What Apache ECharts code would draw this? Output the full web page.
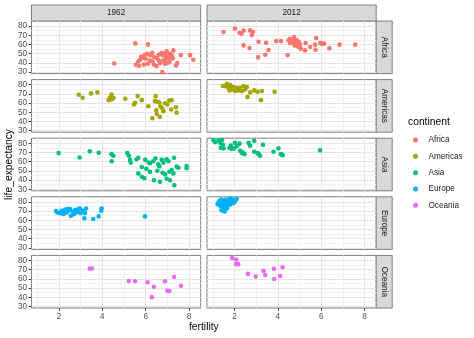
<!DOCTYPE html>
<html><head><meta charset="utf-8">
<script src="https://cdn.jsdelivr.net/npm/echarts@6/dist/echarts.min.js"></script>
<style>html,body{margin:0;padding:0;background:#fff}#c{width:474px;height:338px}</style>
</head><body><div id="c"></div>
<script>
const continents = ['Africa','Americas','Asia','Europe','Oceania'];
const years = ['1962','2012'];
const colors = ['#F8766D','#A3A500','#00BF7D','#00B0F6','#E76BF3'];
const xTicks = [2,4,6,8];
const yTicks = [30,40,50,60,70,80];
const xMinor = [1,3,5,7];
const yMinor = [35,45,55,65,75];

const africa1962 = [[4.55,39.4],[5.52,61.2],[6.11,60.1],[6.77,30.0],[5.55,38.0],[5.66,41.5],[5.74,43.4],[5.89,45.6],[5.92,38.3],[5.97,48.8],[6.08,49.9],[6.11,39.1],[6.2,42.7],[6.32,41.6],[6.38,38.3],[6.38,46.5],[6.2,48.5],[6.51,45.2],[6.6,48.8],[6.69,49.6],[6.78,48.5],[6.82,42.7],[6.66,39.8],[6.88,39.1],[6.89,49.9],[6.97,47.0],[6.97,52.5],[7.0,39.8],[7.05,45.2],[7.12,49.9],[7.2,48.1],[7.25,44.9],[7.28,53.6],[7.4,37.2],[7.46,39.8],[7.62,48.5],[8.05,48.5],[8.2,43.4],[6.5,36.5],[6.0,44.5],[5.8,47.0],[6.9,44.0],[7.1,41.0],[6.3,51.0],[5.7,36.8],[6.6,43.0],[7.15,46.0],[6.75,51.0]];
const africa2012 = [[1.49,73.5],[2.02,77.2],[2.23,72.8],[2.32,71.7],[2.42,75.0],[2.72,75.3],[2.8,70.3],[2.85,73.5],[2.42,59.0],[2.69,56.1],[3.11,63.0],[3.46,61.9],[3.09,46.0],[3.42,48.9],[3.57,53.9],[3.92,63.7],[4.14,63.7],[4.45,48.5],[4.49,64.5],[4.57,66.3],[4.65,62.6],[4.75,68.0],[4.8,60.9],[4.88,64.5],[4.91,58.0],[4.97,62.6],[5.03,59.8],[5.06,55.4],[4.97,57.2],[5.28,61.5],[5.26,53.6],[5.49,57.2],[5.72,59.8],[5.74,54.3],[5.77,67.0],[5.96,61.5],[6.03,60.9],[6.14,60.9],[6.38,55.8],[6.85,59.8],[7.57,59.8],[4.7,64.5],[4.85,61.5],[4.77,59.0],[4.57,61.5]];
const americas1962 = [[2.91,69.1],[3.09,65.8],[3.48,70.5],[3.77,71.6],[4.42,69.4],[4.35,65.8],[4.29,63.2],[4.43,64.0],[4.51,65.8],[5.06,64.7],[5.46,58.5],[5.51,60.3],[5.63,67.6],[5.82,63.2],[6.12,56.6],[6.46,67.6],[6.43,62.1],[6.54,61.4],[6.63,60.7],[6.69,56.3],[6.77,54.1],[6.82,51.2],[6.89,59.9],[7.0,58.5],[7.09,62.8],[7.2,63.2],[7.4,55.5],[7.43,49.7],[7.18,53.0],[6.31,43.5],[6.51,48.2],[6.65,45.0],[6.49,52.3]];
const americas2012 = [[1.46,78.5],[1.65,81.0],[1.72,76.7],[1.8,79.6],[1.88,74.9],[1.95,77.4],[2.03,73.1],[2.11,76.7],[2.18,73.8],[2.26,76.7],[2.34,73.1],[2.42,78.5],[2.49,74.9],[2.57,77.4],[1.77,73.8],[1.85,77.4],[1.98,75.2],[2.14,74.5],[1.57,78.2],[2.6,66.5],[2.72,71.6],[2.91,73.8],[3.06,72.3],[3.26,73.1],[3.22,63.2],[3.85,72.3]];
const asia1962 = [[1.98,69.3],[2.95,64.6],[3.42,71.2],[3.83,69.7],[4.42,68.2],[4.51,66.4],[4.43,60.5],[5.15,69.3],[5.23,66.4],[5.28,62.0],[5.31,59.0],[5.58,62.7],[5.66,64.2],[5.82,54.3],[5.98,62.0],[6.15,59.0],[6.2,58.3],[6.35,60.5],[6.45,63.5],[6.58,57.2],[6.74,62.0],[6.82,59.0],[6.97,62.7],[7.05,60.5],[7.31,64.2],[7.43,54.6],[7.51,53.5],[7.89,55.4],[7.89,52.8],[5.66,47.3],[5.82,43.6],[5.94,42.1],[6.2,49.1],[6.38,39.9],[6.54,50.2],[6.66,38.1],[6.78,48.0],[6.89,46.2],[6.97,41.4],[7.09,49.1],[7.12,39.9],[7.2,51.0],[7.28,47.3],[7.32,34.4],[6.63,55.0],[6.03,52.4]];
const asia2012 = [[1.03,83.3],[1.11,81.1],[1.26,82.9],[1.34,80.4],[1.42,83.6],[1.46,78.2],[1.37,75.2],[1.49,74.5],[1.77,75.2],[1.88,73.8],[1.83,77.4],[2.02,80.4],[2.11,76.7],[2.23,79.6],[1.98,74.5],[2.26,71.9],[2.38,70.1],[2.46,68.2],[2.34,69.3],[2.65,80.4],[2.72,77.4],[2.91,82.6],[3.06,69.3],[3.18,66.4],[3.31,78.2],[2.91,70.8],[3.12,68.2],[3.8,70.8],[4.03,74.5],[4.14,68.2],[4.22,67.1],[5.95,72.3]];
const europe1962 = [[1.86,70.0],[1.92,68.5],[2.05,67.8],[2.12,70.3],[2.2,66.7],[2.28,71.4],[2.35,68.5],[2.43,70.3],[2.51,72.1],[2.55,65.0],[2.63,69.2],[2.74,71.0],[2.82,68.5],[2.89,72.1],[2.97,72.8],[3.0,67.8],[3.12,70.3],[3.17,62.1],[3.2,67.8],[3.25,72.8],[3.58,61.4],[3.83,64.2],[3.97,72.8],[3.95,70.3],[5.97,64.2],[2.17,69.6],[2.38,72.1],[2.69,66.7]];
const europe2012 = [[1.26,79.3],[1.34,75.7],[1.42,81.1],[1.49,77.5],[1.57,82.2],[1.65,79.3],[1.72,76.4],[1.8,81.1],[1.88,82.9],[1.95,80.0],[2.03,82.2],[2.1,83.0],[1.46,72.1],[1.54,69.5],[1.42,73.9],[1.6,73.9],[1.34,78.6],[1.72,80.0],[1.8,77.5],[1.57,75.7],[1.22,77.5],[1.37,82.5],[1.49,70.5],[1.68,82.2],[1.91,78.6],[1.98,81.1],[1.65,72.8],[1.77,83.2],[1.3,81.0],[1.5,80.0],[1.45,76.5],[1.55,78.5],[1.62,76.8],[1.85,79.8],[2.0,79.5],[1.4,71.0],[1.52,74.5],[1.75,78.8],[1.92,81.8],[1.6,81.5]];
const oceania1962 = [[3.42,71.2],[3.52,71.2],[5.22,57.7],[5.51,57.4],[6.09,56.3],[6.38,51.5],[6.89,57.4],[7.31,62.1],[6.28,40.2],[7.0,47.2],[7.09,46.8],[7.63,52.6]];
const oceania2012 = [[1.89,82.6],[2.08,81.1],[2.08,76.0],[2.17,76.0],[2.62,65.4],[2.98,62.5],[3.34,68.7],[3.42,64.3],[3.82,70.9],[3.83,59.9],[4.11,63.2],[4.22,72.7]];

const panelData = [
  [africa1962, africa2012],
  [americas1962, americas2012],
  [asia1962, asia2012],
  [europe1962, europe2012],
  [oceania1962, oceania2012]
];

const FONT = '"Liberation Sans", Arial, sans-serif';
const XMIN = 0.73, XMAX = 8.54, YMIN = 28.4, YMAX = 85.5;
const LEFTS = [31.5, 207], W = 169.2, T0 = 21, H = 52.6, STEP = 58.6;
const BORDER = '#7f7f7f';

const grids = [], xAxes = [], yAxes = [], series = [], graphics = [];
const gridLines = [];
xMinor.forEach(v => gridLines.push({xAxis: v, lineStyle: {color: '#f2f2f2'}}));
yMinor.forEach(v => gridLines.push({yAxis: v, lineStyle: {color: '#f2f2f2'}}));
xTicks.forEach(v => gridLines.push({xAxis: v, lineStyle: {color: '#e5e5e5'}}));
yTicks.forEach(v => gridLines.push({yAxis: v, lineStyle: {color: '#e5e5e5'}}));

let idx = 0;
for (let r = 0; r < 5; r++) {
  for (let c = 0; c < 2; c++) {
    grids.push({left: LEFTS[c], top: T0 + r * STEP, width: W, height: H, show: true,
      backgroundColor: '#fff', borderColor: BORDER, borderWidth: 1});
    xAxes.push({gridIndex: idx, type: 'value', min: XMIN, max: XMAX,
      axisLine: {show: false}, splitLine: {show: false},
      axisTick: {show: r === 4, length: 2.7, customValues: xTicks, lineStyle: {color: '#333'}},
      axisLabel: {show: r === 4, customValues: xTicks, margin: 4.5, color: '#4d4d4d', fontSize: 8.2, fontFamily: FONT}});
    yAxes.push({gridIndex: idx, type: 'value', min: YMIN, max: YMAX,
      axisLine: {show: false}, splitLine: {show: false},
      axisTick: {show: c === 0, length: 2.7, customValues: yTicks, lineStyle: {color: '#333'}},
      axisLabel: {show: c === 0, customValues: yTicks, margin: 4.5, color: '#4d4d4d', fontSize: 8.2, fontFamily: FONT}});
    series.push({type: 'scatter', name: continents[r], xAxisIndex: idx, yAxisIndex: idx,
      data: panelData[r][c], symbol: 'circle', symbolSize: 4.6, z: 10,
      itemStyle: {color: colors[r], opacity: 1},
      markLine: {silent: true, symbol: 'none', z: 1, animation: false, label: {show: false},
        lineStyle: {type: 'solid', width: 1}, emphasis: {disabled: true}, data: gridLines}});
    idx++;
  }
}

// column strips
for (let c = 0; c < 2; c++) {
  graphics.push({type: 'rect', shape: {x: LEFTS[c], y: 5, width: W, height: T0 - 5},
    style: {fill: '#d9d9d9', stroke: BORDER, lineWidth: 1}});
  graphics.push({type: 'text', x: LEFTS[c] + W / 2, y: (5 + T0) / 2,
    style: {text: years[c], textAlign: 'center', textVerticalAlign: 'middle', fontSize: 8.2, fontFamily: FONT, fill: '#1a1a1a'}});
}
// row strips
const SX = LEFTS[1] + W;
for (let r = 0; r < 5; r++) {
  const top = T0 + r * STEP;
  graphics.push({type: 'rect', shape: {x: SX, y: top, width: 16, height: H},
    style: {fill: '#d9d9d9', stroke: BORDER, lineWidth: 1}});
  graphics.push({type: 'text', x: SX + 8, y: top + H / 2, rotation: -Math.PI / 2,
    style: {text: continents[r], textAlign: 'center', textVerticalAlign: 'middle', fontSize: 8.2, fontFamily: FONT, fill: '#1a1a1a'}});
}
// axis titles
graphics.push({type: 'text', x: (LEFTS[0] + SX) / 2, y: 327.5,
  style: {text: 'fertility', textAlign: 'center', textVerticalAlign: 'middle', fontSize: 10.3, fontFamily: FONT, fill: '#000'}});
graphics.push({type: 'text', x: 9.5, y: T0 + (4 * STEP + H) / 2, rotation: Math.PI / 2,
  style: {text: 'life_expectancy', textAlign: 'center', textVerticalAlign: 'middle', fontSize: 10.3, fontFamily: FONT, fill: '#000'}});
// legend title
graphics.push({type: 'text', x: 408, y: 122,
  style: {text: 'continent', textAlign: 'left', textVerticalAlign: 'middle', fontSize: 10.3, fontFamily: FONT, fill: '#000'}});

const chart = echarts.init(document.getElementById('c'), null, {renderer: 'canvas'});
chart.setOption({
  animation: false,
  backgroundColor: '#fff',
  grid: grids, xAxis: xAxes, yAxis: yAxes, series: series,
  legend: {data: continents, orient: 'vertical', left: 413, top: 131.9, padding: 0,
    itemWidth: 16, itemHeight: 5, itemGap: 0, icon: 'circle', selectedMode: false,
    textStyle: {fontSize: 8.2, lineHeight: 16.3, color: '#1a1a1a', fontFamily: FONT}},
  graphic: graphics
});
</script></body></html>
